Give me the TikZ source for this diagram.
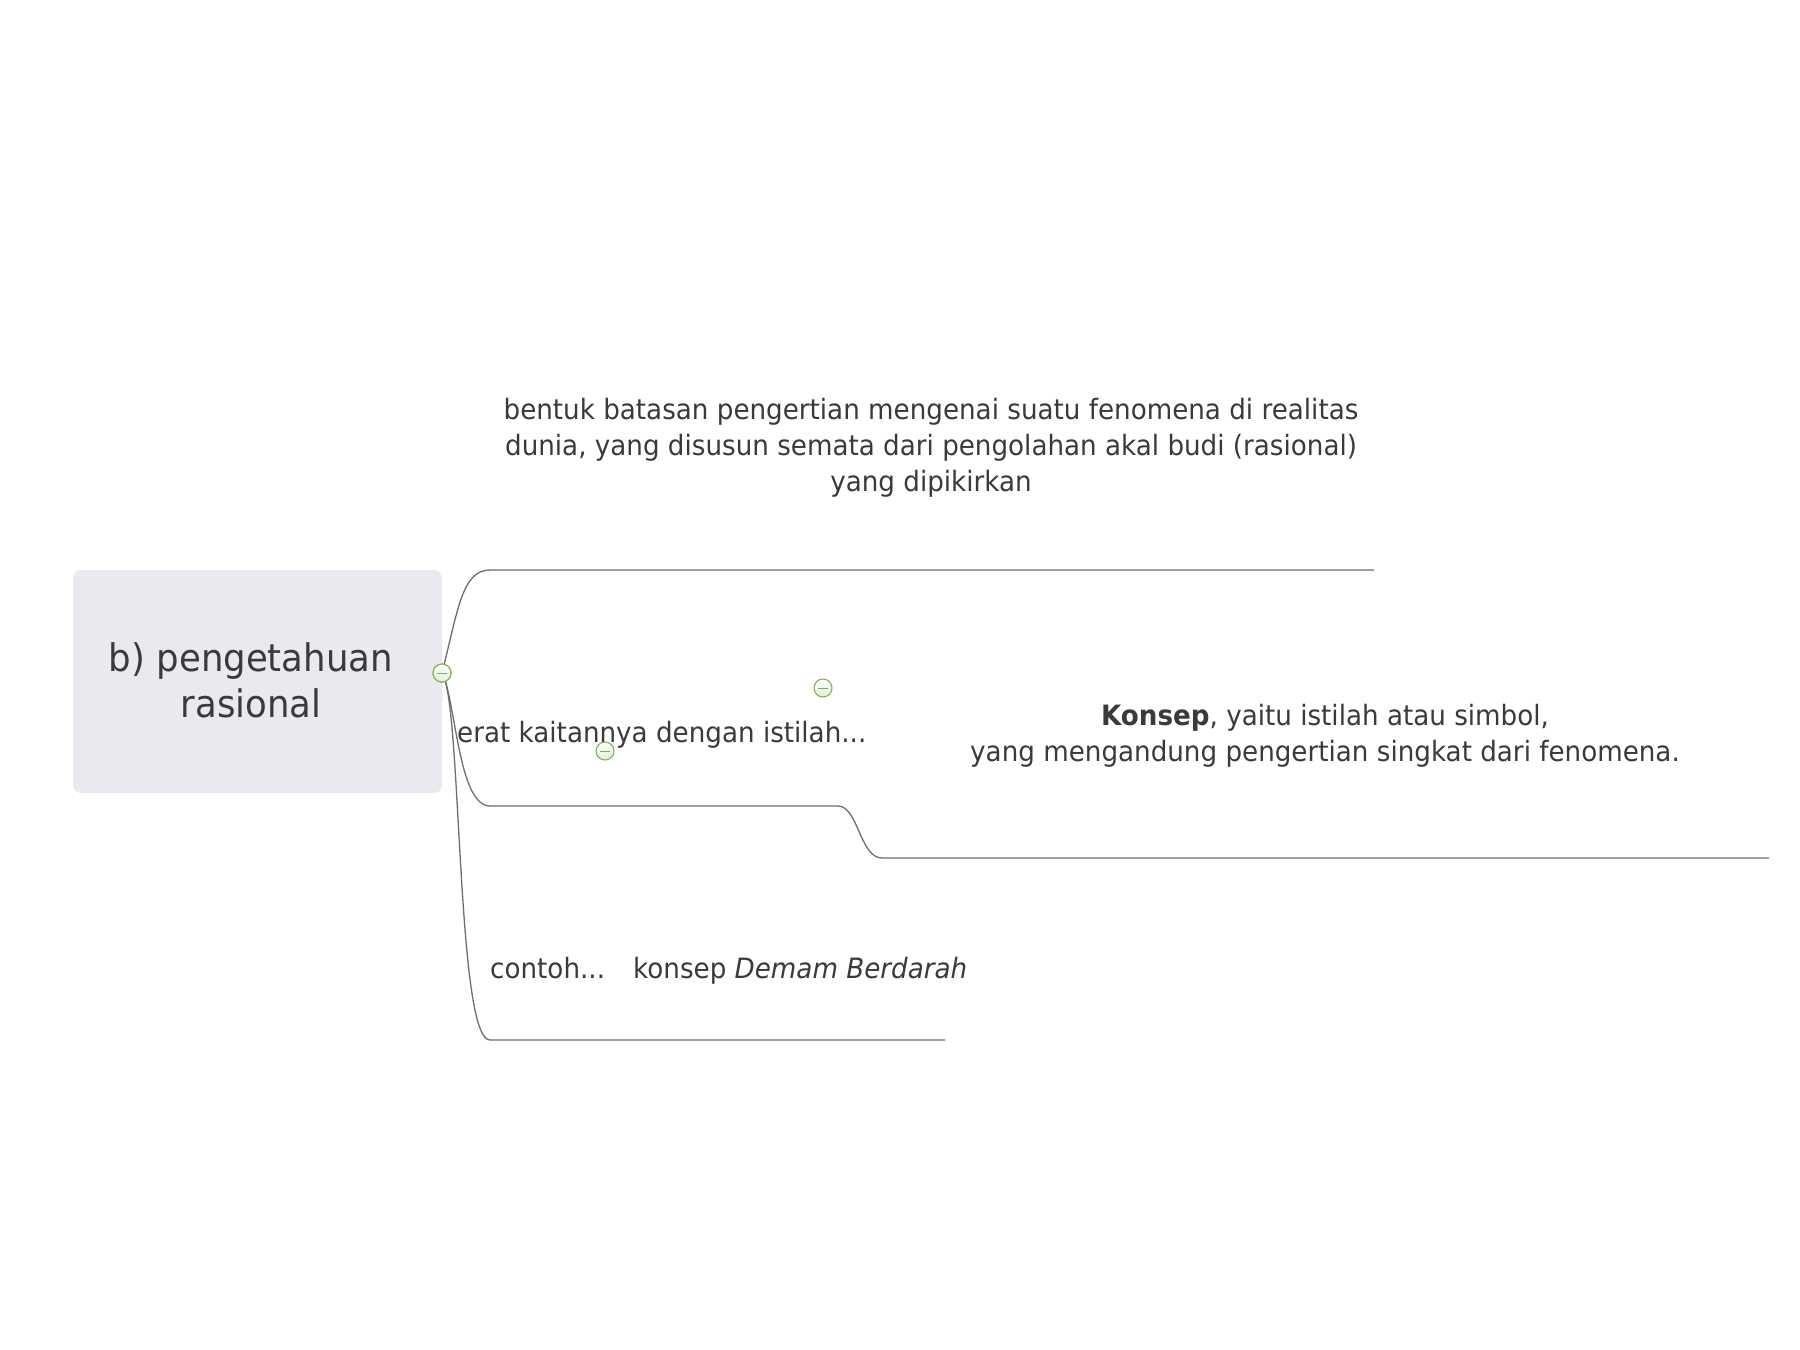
\documentclass[tikz,border=0pt]{standalone}
\usepackage{fontspec}
\setmainfont[FakeStretch=0.935]{DejaVu Sans}
\usetikzlibrary{shapes.geometric}
\definecolor{txt}{HTML}{3A3A3A}
\definecolor{ln}{HTML}{6E6E6E}
\definecolor{rootfill}{HTML}{E9EAF0}
\definecolor{cgreen}{HTML}{7DB35A}
\definecolor{cfill}{HTML}{E2F0D6}
\tikzset{
  rootbox/.style={fill=rootfill, rounded corners=8pt, minimum width=369pt, minimum height=223pt, inner sep=0pt},
  label/.style={text=txt, font=\fontsize{28}{36}\selectfont, align=center, inner sep=0pt},
  conn/.style={draw=ln, line width=1.3pt},
  toggle/.style={circle, draw=cgreen, line width=1.1pt, top color=white, bottom color=cfill, minimum size=18pt, inner sep=0pt,
    path picture={\draw[cgreen, line width=1pt] ([xshift=-5pt]path picture bounding box.center) -- ([xshift=5pt]path picture bounding box.center);}},
}
\begin{document}
\begin{tikzpicture}[x=1pt,y=-1pt]
\useasboundingbox[fill=white] (0,0) rectangle (1800,1350);
% root
\node[rootbox] (root) at (257.5,681.5) {};
\node[text=txt, font=\fontsize{38}{46}\selectfont, align=center, inner sep=0pt] (roottext) at (251,680) {b) pengetahuan\\rasional};
% branch ends
\coordinate (b1s) at (490,570);
\coordinate (b1e) at (1374,570);
\coordinate (b2s) at (490,806);
\coordinate (b2m) at (838,806);
\coordinate (b2n) at (882,858);
\coordinate (b2e) at (1769,858);
\coordinate (b3s) at (490,1040);
\coordinate (b3e) at (945,1040);
% toggle
\node[toggle] (c0) at (442,673) {};
% connectors
\draw[conn] (c0.center) .. controls (458,610) and (462,570) .. (b1s) -- (b1e);
\draw[conn] (c0.center) .. controls (456,700) and (458,806) .. (b2s) -- (b2m) .. controls (858,806) and (860,858) .. (b2n) -- (b2e);
\draw[conn] (c0.center) .. controls (462,700) and (456,1040) .. (b3s) -- (b3e);
\node[toggle] at (442,673) {};
% texts
\node[label] (t1) at (931,448) {bentuk batasan pengertian mengenai suatu fenomena di realitas\\dunia, yang disusun semata dari pengolahan akal budi (rasional)\\yang dipikirkan};
\node[label, anchor=west] (t2) at (457,735) {erat kaitannya dengan istilah...};
\node[label] (t3) at (1325,736) {\textbf{Konsep}, yaitu istilah atau simbol,\\yang mengandung pengertian singkat dari fenomena.};
\node[label, anchor=base west] (t4) at (490,978) {contoh...};
\node[label, anchor=base west] (t5) at (633,978) {konsep \textit{Demam Berdarah}};
% extra toggles
\node[toggle] (c1) at (823,688) {};
\node[toggle] (c2) at (605,751) {};
\end{tikzpicture}
\end{document}
